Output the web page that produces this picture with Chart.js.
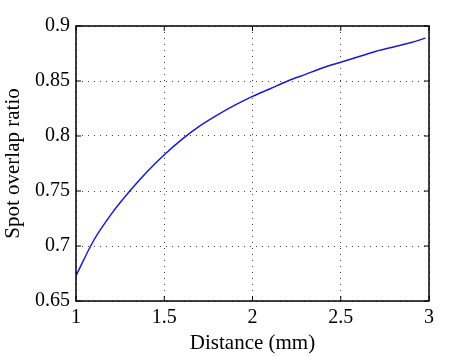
<!DOCTYPE html>
<html>
<head>
<meta charset="utf-8">
<script src="https://cdn.jsdelivr.net/npm/chart.js@4.4.1/dist/chart.umd.min.js"></script>
<style>
html,body{margin:0;padding:0;background:#fff;}
#wrap{width:474px;height:356px;position:relative;}
</style>
</head>
<body>
<div id="wrap"><canvas id="c" width="474" height="356"></canvas></div>
<script>
const distance = [1.0,1.1,1.2,1.3,1.4,1.5,1.6,1.7,1.8,1.9,2.0,2.1,2.2,2.3,2.4,2.5,2.6,2.7,2.8,2.9,2.98];
const overlapRatio = [0.673,0.705,0.729,0.749,0.767,0.783,0.797,0.809,0.819,0.828,0.836,0.843,0.850,0.856,0.862,0.867,0.872,0.877,0.881,0.885,0.889];
const xTicks = [1,1.5,2,2.5,3];
const yTicks = [0.65,0.7,0.75,0.8,0.85,0.9];
const xTitle = 'Distance (mm)';
const yTitle = 'Spot overlap ratio';

const points = distance.map((d,i)=>({x:d,y:overlapRatio[i]}));
const FONT = '"Liberation Serif", "DejaVu Serif", serif';

const boxPlugin = {
  id:'box',
  afterDraw(chart){
    const {ctx, chartArea:a, scales} = chart;
    ctx.save();
    ctx.strokeStyle='#000';
    ctx.lineWidth=1.5;
    ctx.strokeRect(a.left,a.top,a.right-a.left,a.bottom-a.top);
    ctx.lineWidth=1;
    const tl=5;
    xTicks.forEach(v=>{
      const px=scales.x.getPixelForValue(v);
      ctx.beginPath();
      ctx.moveTo(px,a.bottom);ctx.lineTo(px,a.bottom-tl);
      ctx.moveTo(px,a.top);ctx.lineTo(px,a.top+tl);
      ctx.stroke();
    });
    yTicks.forEach(v=>{
      const py=scales.y.getPixelForValue(v);
      ctx.beginPath();
      ctx.moveTo(a.left,py);ctx.lineTo(a.left+tl,py);
      ctx.moveTo(a.right,py);ctx.lineTo(a.right-tl,py);
      ctx.stroke();
    });
    ctx.restore();
  }
};

new Chart(document.getElementById('c'),{
  type:'line',
  data:{datasets:[{data:points,borderColor:'#1a1ad6',borderWidth:1.5,pointRadius:0,cubicInterpolationMode:'monotone',fill:false}]},
  options:{
    responsive:false,
    animation:false,
    layout:{padding:{top:26,right:45,left:0,bottom:0}},
    plugins:{legend:{display:false},tooltip:{enabled:false}},
    scales:{
      x:{
        type:'linear',min:1,max:3,
        afterBuildTicks(s){s.ticks=xTicks.map(v=>({value:v}));},
        afterFit(s){s.height=55;},
        grid:{color:'#444',lineWidth:1,drawTicks:false},
        border:{display:false,dash:[1,5]},
        ticks:{color:'#000',font:{family:FONT,size:20},padding:5,maxRotation:0,callback:v=>String(v)},
        title:{display:true,text:xTitle,color:'#000',font:{family:FONT,size:21},padding:{top:0,bottom:0}}
      },
      y:{
        type:'linear',min:0.65,max:0.9,
        afterBuildTicks(s){s.ticks=yTicks.map(v=>({value:v}));},
        afterFit(s){s.width=76;},
        grid:{color:'#444',lineWidth:1,drawTicks:false},
        border:{display:false,dash:[1,5]},
        ticks:{color:'#000',font:{family:FONT,size:20},padding:6,callback:v=>String(v)},
        title:{display:true,text:yTitle,color:'#000',font:{family:FONT,size:21},padding:{top:1,bottom:0}}
      }
    }
  },
  plugins:[boxPlugin]
});
</script>
</body>
</html>
